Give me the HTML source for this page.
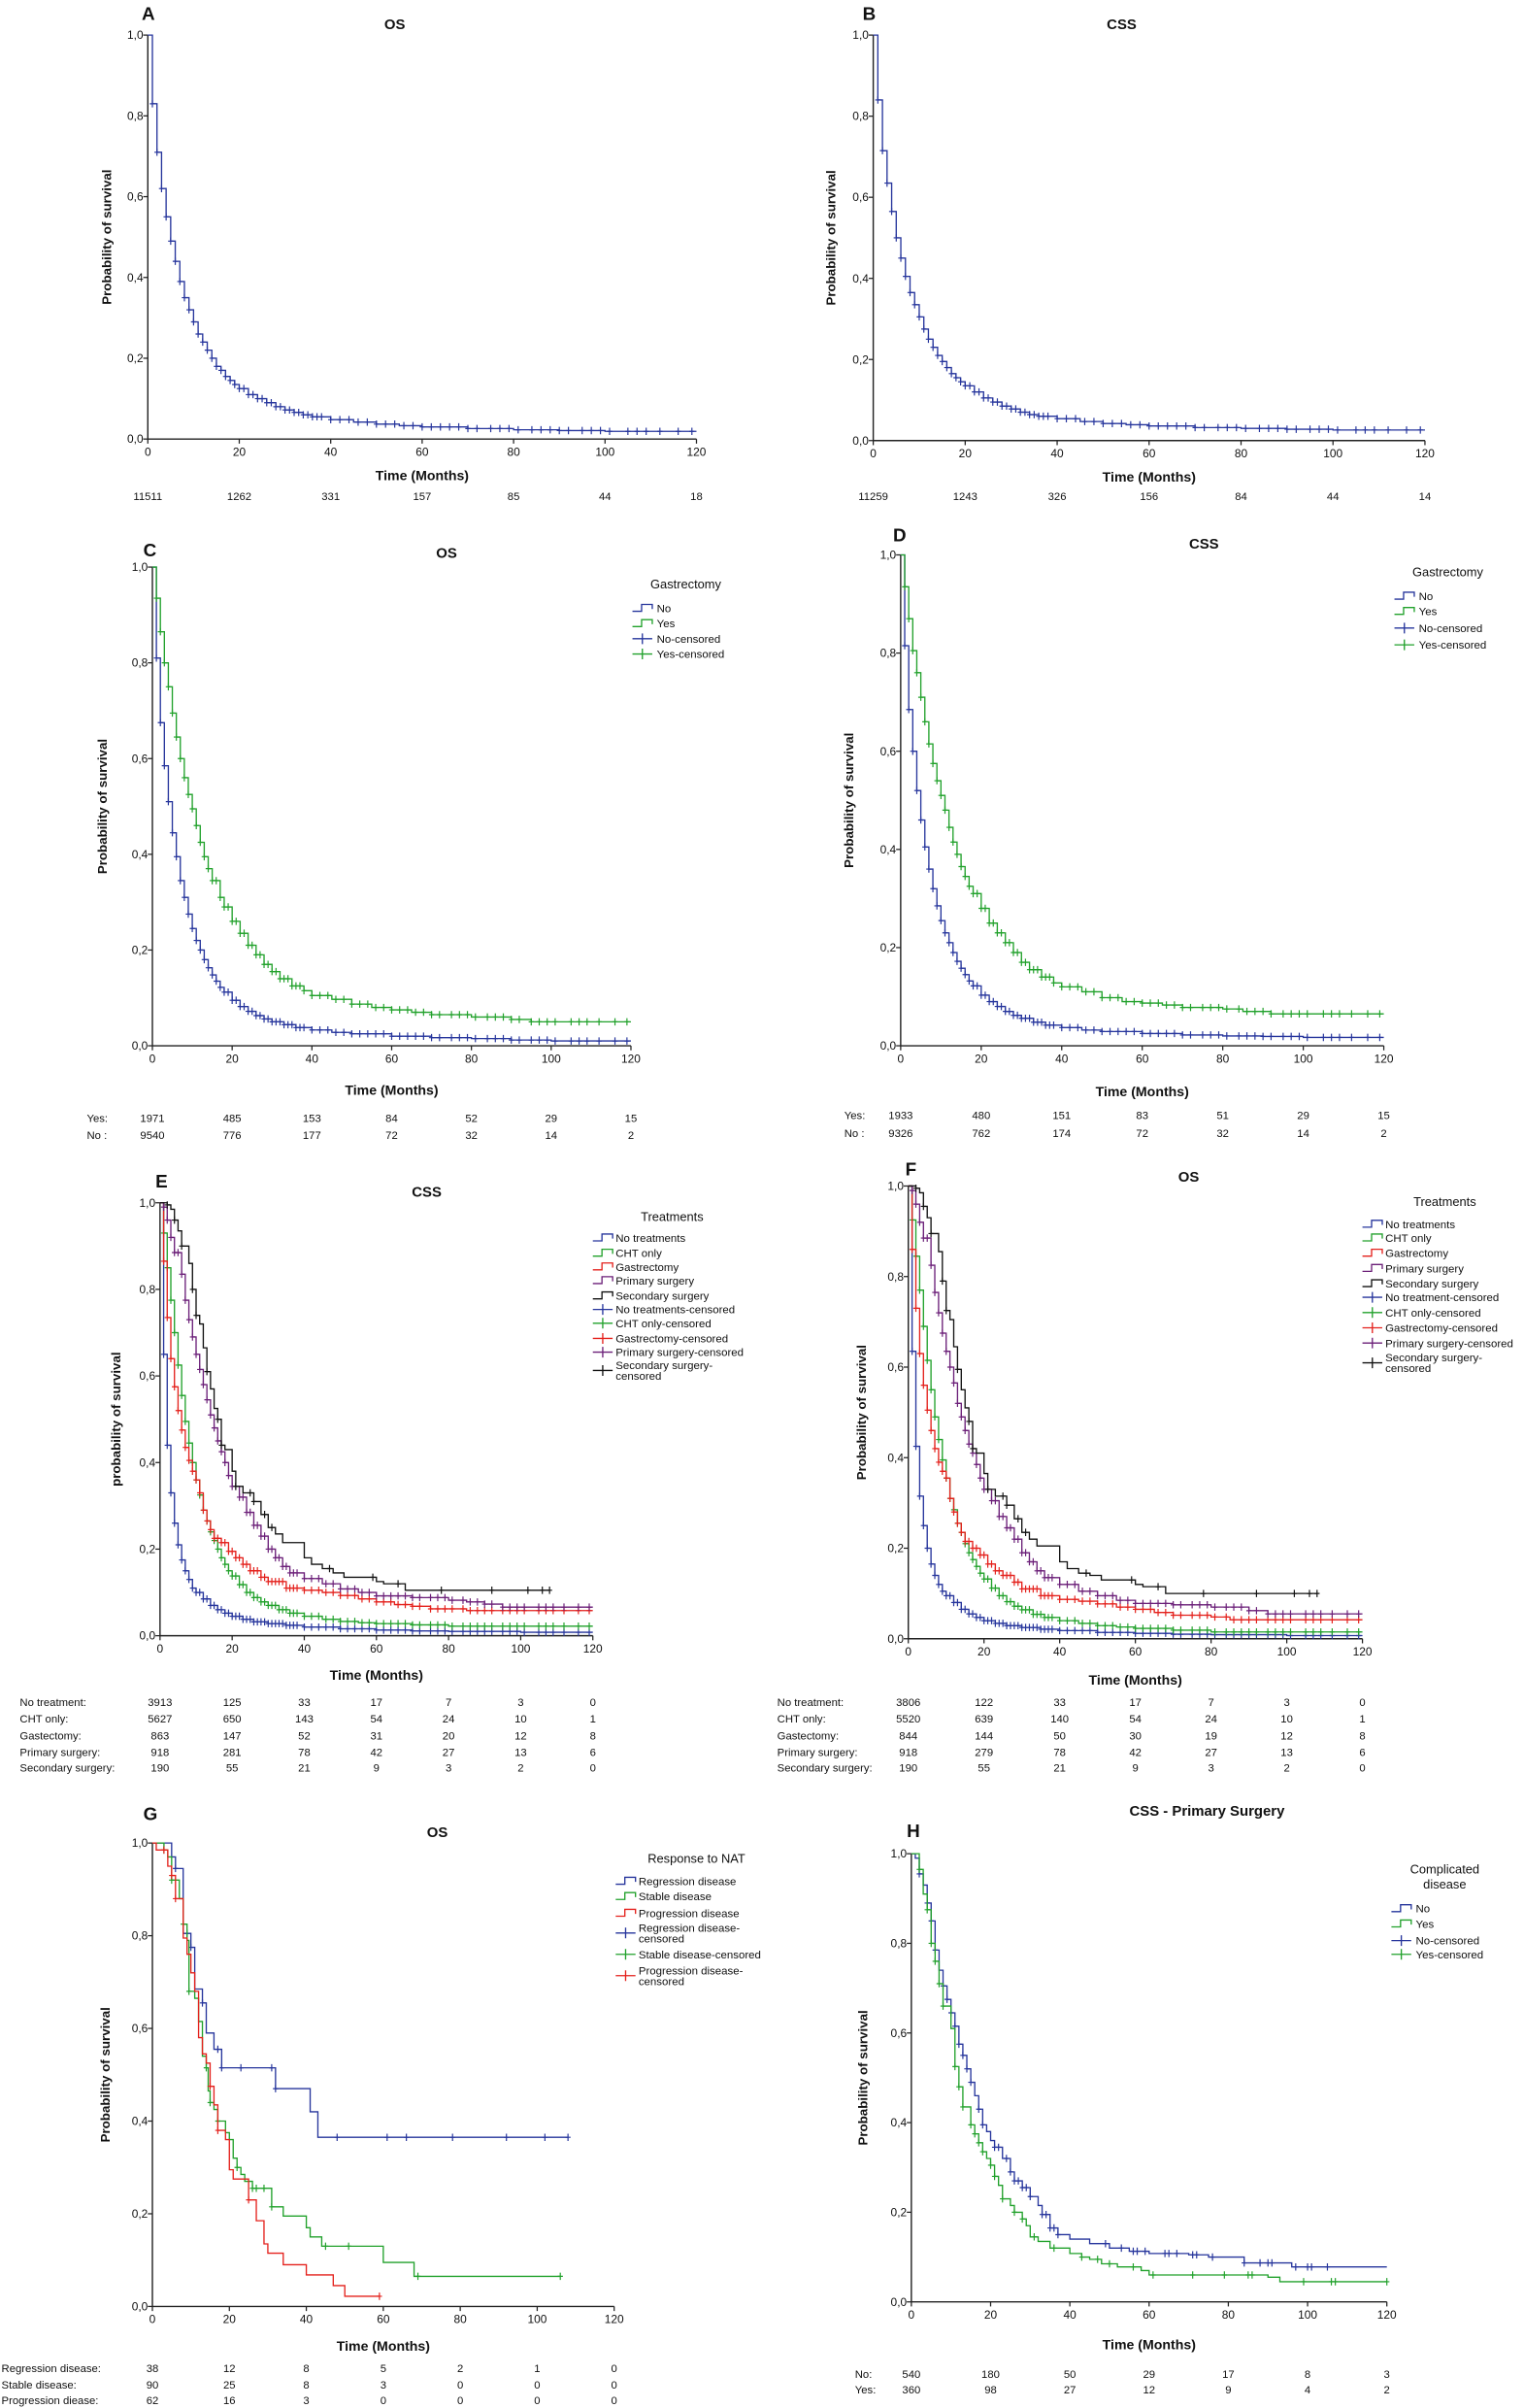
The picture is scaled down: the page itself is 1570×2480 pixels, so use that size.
<!DOCTYPE html>
<html><head><meta charset="utf-8"><style>
html,body{margin:0;padding:0;background:#fff;}
svg{display:block;}
text{font-family:"Liberation Sans Narrow","Liberation Sans",sans-serif;fill:#111;}
.b{font-family:"Liberation Sans",sans-serif;font-weight:bold;}
</style></head><body>
<svg id="fig" xmlns="http://www.w3.org/2000/svg" width="1570" height="2480" viewBox="0 0 1000 1579.6"></svg>
<script>
// ---------- DATA ----------
const censDense = [1,2,3,4,5,6,7,8,9,10,11,12,13,14,15,16,17,18,19,20,21,22,23,24,25,26,27,28,29,30,31,32,33,34,35,36,37,38,40,42,44,46,48,50,52,54,56,58,60,62,64,66,68,70,72,75,77,79,81,84,86,88,90,92,95,97,99,101,105,107,109,112,116,119];
const tA = [1,2,3,4,5,6,7,8,9,10,11,12,13,14,15,16,17,18,19,20,22,24,26,28,30,32,34,36,40,45,50,55,60,70,80,90,100];
const sA = [0.83,0.71,0.62,0.55,0.49,0.44,0.39,0.35,0.32,0.29,0.26,0.24,0.22,0.20,0.18,0.17,0.155,0.145,0.135,0.125,0.11,0.10,0.09,0.08,0.072,0.066,0.06,0.055,0.048,0.042,0.037,0.033,0.03,0.026,0.023,0.021,0.019];
const riskA = ['11511','1262','331','157','85','44','18'];
const tB = tA;
const sB = [0.84,0.715,0.635,0.565,0.50,0.45,0.405,0.365,0.335,0.305,0.275,0.25,0.23,0.21,0.195,0.18,0.165,0.155,0.145,0.135,0.12,0.105,0.095,0.085,0.078,0.07,0.064,0.06,0.054,0.047,0.042,0.039,0.036,0.032,0.03,0.028,0.026];
const riskB = ['11259','1243','326','156','84','44','14'];
const tCno = [1,2,3,4,5,6,7,8,9,10,11,12,13,14,15,16,17,18,20,22,24,26,28,30,33,36,40,45,50,60,70,80,90,100];
const sCno = [0.81,0.675,0.585,0.51,0.445,0.395,0.345,0.31,0.275,0.245,0.22,0.20,0.18,0.163,0.148,0.135,0.122,0.112,0.095,0.082,0.072,0.063,0.056,0.05,0.044,0.038,0.033,0.028,0.025,0.02,0.017,0.015,0.012,0.010];
const tCyes = [1,2,3,4,5,6,7,8,9,10,11,12,13,14,15,17,18,20,22,24,26,28,30,32,35,38,40,45,50,55,60,65,70,80,90,95];
const sCyes = [0.935,0.865,0.80,0.75,0.695,0.645,0.60,0.56,0.525,0.495,0.46,0.425,0.395,0.37,0.345,0.31,0.29,0.26,0.235,0.21,0.19,0.17,0.155,0.14,0.125,0.115,0.105,0.097,0.087,0.08,0.075,0.07,0.065,0.06,0.055,0.05];
const riskCyes = ['1971','485','153','84','52','29','15'];
const riskCno = ['9540','776','177','72','32','14','2'];
const tDno = [1,2,3,4,5,6,7,8,9,10,11,12,13,14,15,16,17,18,20,22,24,26,28,30,33,36,40,45,50,60,70,80,90,100];
const sDno = [0.815,0.685,0.6,0.52,0.46,0.405,0.36,0.32,0.285,0.255,0.23,0.21,0.19,0.172,0.158,0.145,0.132,0.122,0.103,0.09,0.08,0.07,0.062,0.056,0.048,0.042,0.037,0.032,0.029,0.025,0.022,0.02,0.019,0.017];
const tDyes = [1,2,3,4,5,6,7,8,9,10,11,12,13,14,15,16,17,18,20,22,24,26,28,30,32,35,38,40,45,50,55,60,65,70,80,85,92];
const sDyes = [0.935,0.87,0.805,0.76,0.71,0.66,0.615,0.575,0.54,0.51,0.48,0.445,0.415,0.39,0.365,0.345,0.325,0.31,0.28,0.25,0.23,0.21,0.19,0.17,0.155,0.14,0.128,0.12,0.11,0.098,0.09,0.087,0.083,0.078,0.075,0.07,0.065];
const riskDyes = ['1933','480','151','83','51','29','15'];
const riskDno = ['9326','762','174','72','32','14','2'];
// E (CSS, treatments)
const tEno = [1,2,3,4,5,6,7,8,9,10,12,14,16,18,20,23,26,30,35,40,50,60,70,80,100];
const sEno = [0.65,0.44,0.33,0.26,0.21,0.175,0.15,0.13,0.11,0.10,0.085,0.07,0.06,0.052,0.045,0.038,0.032,0.028,0.024,0.02,0.016,0.013,0.011,0.01,0.008];
const tEcht = [1,2,3,4,5,6,7,8,9,10,11,12,13,14,15,16,17,18,19,20,22,24,26,28,30,33,36,40,45,50,55,60,70,80];
const sEcht = [0.93,0.85,0.775,0.70,0.625,0.555,0.495,0.445,0.40,0.36,0.325,0.29,0.265,0.24,0.22,0.20,0.18,0.165,0.15,0.138,0.118,0.10,0.088,0.078,0.07,0.06,0.052,0.045,0.038,0.033,0.03,0.028,0.025,0.022];
const tEgas = [1,2,3,4,5,6,7,8,9,10,11,12,13,14,15,17,19,21,23,25,28,30,35,40,45,50,55,60,65,70,75,85];
const sEgas = [0.865,0.735,0.64,0.575,0.52,0.475,0.435,0.405,0.38,0.36,0.33,0.29,0.265,0.245,0.225,0.215,0.195,0.18,0.165,0.15,0.135,0.125,0.11,0.105,0.10,0.093,0.085,0.078,0.072,0.068,0.062,0.058];
const tEpri = [1,2,3,4,6,7,8,9,10,11,12,13,14,15,16,17,18,19,20,22,24,26,28,30,32,34,36,40,45,50,55,60,70,80,85,90,95];
const sEpri = [0.99,0.96,0.92,0.885,0.835,0.775,0.73,0.69,0.65,0.615,0.58,0.545,0.51,0.48,0.45,0.425,0.40,0.37,0.345,0.32,0.285,0.255,0.23,0.20,0.18,0.16,0.145,0.132,0.12,0.108,0.10,0.092,0.088,0.082,0.078,0.073,0.066];
const tEsec = [2,3,4,5,6,8,9,10,11,12,13,14,15,16,17,18,20,21,23,26,28,30,32,34,40,42,45,48,51,60,62,68];
const sEsec = [0.995,0.985,0.96,0.935,0.90,0.86,0.80,0.74,0.72,0.665,0.61,0.57,0.525,0.50,0.44,0.43,0.38,0.345,0.33,0.31,0.28,0.25,0.235,0.215,0.18,0.165,0.155,0.145,0.135,0.125,0.12,0.105];
const censSec = [2,4,6,9,10,13,16,17,21,25,26,29,31,47,59,66,78,92,102,106,108];
const riskE = [['3913','125','33','17','7','3','0'],['5627','650','143','54','24','10','1'],['863','147','52','31','20','12','8'],['918','281','78','42','27','13','6'],['190','55','21','9','3','2','0']];
// F (OS, treatments)
const tFno = [1,2,3,4,5,6,7,8,9,10,12,14,16,18,20,23,26,30,35,40,50,60,70,80,100];
const sFno = [0.635,0.425,0.315,0.25,0.20,0.165,0.14,0.12,0.105,0.095,0.08,0.065,0.055,0.047,0.04,0.034,0.029,0.025,0.021,0.018,0.014,0.012,0.01,0.009,0.007];
const tFcht = [1,2,3,4,5,6,7,8,9,10,11,12,13,14,15,16,17,18,19,20,22,24,26,28,30,33,36,40,45,50,55,60,70,80];
const sFcht = [0.925,0.845,0.77,0.69,0.615,0.55,0.49,0.44,0.395,0.355,0.31,0.285,0.255,0.235,0.21,0.19,0.175,0.16,0.145,0.132,0.112,0.095,0.082,0.072,0.064,0.054,0.047,0.04,0.034,0.029,0.026,0.023,0.019,0.015];
const tFgas = [1,2,3,4,5,6,7,8,9,10,11,12,13,14,15,17,19,21,23,25,28,30,35,40,45,50,55,60,65,70,80,85];
const sFgas = [0.86,0.73,0.63,0.56,0.505,0.46,0.42,0.39,0.37,0.355,0.31,0.28,0.255,0.235,0.215,0.2,0.185,0.165,0.15,0.14,0.125,0.11,0.095,0.087,0.083,0.077,0.07,0.065,0.058,0.052,0.048,0.042];
const tFpri = [1,2,3,4,6,7,8,9,10,11,12,13,14,15,16,17,18,19,20,22,24,26,28,30,32,34,36,40,45,50,55,60,70,80,90,95];
const sFpri = [0.99,0.96,0.92,0.885,0.825,0.765,0.72,0.675,0.635,0.60,0.565,0.52,0.49,0.46,0.43,0.41,0.385,0.355,0.33,0.305,0.27,0.245,0.22,0.19,0.17,0.15,0.135,0.12,0.105,0.095,0.085,0.078,0.075,0.07,0.062,0.055];
const tFsec = [2,3,4,5,6,8,9,10,11,12,13,14,15,16,17,18,20,21,23,26,28,30,32,34,40,42,45,48,51,60,62,68];
const sFsec = [0.995,0.985,0.955,0.93,0.895,0.855,0.79,0.725,0.705,0.645,0.595,0.55,0.51,0.48,0.42,0.41,0.365,0.33,0.315,0.295,0.265,0.235,0.22,0.205,0.17,0.155,0.145,0.14,0.13,0.12,0.115,0.10];
const riskF = [['3806','122','33','17','7','3','0'],['5520','639','140','54','24','10','1'],['844','144','50','30','19','12','8'],['918','279','78','42','27','13','6'],['190','55','21','9','3','2','0']];
// G (OS, response to NAT)
const tGreg = [5,6,8,10,11,13,14,16,18,32,41,43];
const sGreg = [0.97,0.945,0.805,0.775,0.685,0.655,0.59,0.555,0.515,0.47,0.42,0.365];
const cGreg = [6,9,10,13,17,18,23,31,32,48,61,66,78,92,102,108];
const tGsta = [3,4,5,7,8,9,9.5,11,12,13,14,14.5,15,16,17,19,20,21,22,23,24,26,31,34,40,41,44,60,68];
const sGsta = [0.985,0.97,0.92,0.88,0.825,0.79,0.68,0.665,0.615,0.54,0.515,0.465,0.44,0.425,0.40,0.375,0.36,0.32,0.30,0.285,0.27,0.255,0.215,0.195,0.17,0.15,0.13,0.095,0.065];
const cGsta = [3,5,8,9.5,14,15,17,22,26,27,29,31,45,51,69,106];
const tGpro = [1,4,5,6,8,9,10,11,12,13,14,15,16,17,19,20,21,25,27,29,30,34,40,47,50];
const sGpro = [0.985,0.95,0.93,0.88,0.795,0.76,0.72,0.68,0.58,0.545,0.525,0.475,0.435,0.38,0.36,0.295,0.275,0.23,0.185,0.135,0.115,0.09,0.068,0.045,0.022];
const cGpro = [3,5,6,15,17,25,59];
const riskG = [['38','12','8','5','2','1','0'],['90','25','8','3','0','0','0'],['62','16','3','0','0','0','0']];
// H (CSS primary surgery)
const tHno = [1,2,3,4,5,6,7,8,9,10,11,12,13,14,15,16,17,18,19,20,21,23,25,26,28,30,32,33,35,37,40,45,50,55,60,70,75,84,96];
const sHno = [0.99,0.955,0.93,0.89,0.85,0.785,0.74,0.705,0.675,0.645,0.615,0.575,0.55,0.52,0.49,0.46,0.43,0.395,0.38,0.36,0.345,0.32,0.29,0.27,0.255,0.235,0.215,0.195,0.165,0.15,0.14,0.13,0.12,0.113,0.108,0.105,0.10,0.087,0.078];
const cHno = [2,4,5,6,8,9,10,11,12,13,14,15,17,18,21,22,24,25,26,27,28,29,30,33,34,35,36,37,49,53,56,57,59,64,65,67,71,72,76,84,88,90,91,97,100,101,105];
const tHyes = [2,3,4,5,6,7,8,10,11,12,13,15,16,17,18,19,20,21,22,23,25,26,28,29,30,32,35,40,43,45,48,52,58,60,90,93];
const sHyes = [0.965,0.91,0.875,0.80,0.76,0.71,0.66,0.61,0.525,0.48,0.435,0.395,0.375,0.355,0.335,0.32,0.305,0.28,0.26,0.23,0.215,0.20,0.185,0.17,0.145,0.135,0.12,0.108,0.10,0.095,0.085,0.078,0.07,0.06,0.055,0.045];
const cHyes = [2,4,5,6,7,8,11,12,13,15,16,17,18,20,21,23,26,28,31,36,43,47,50,56,61,71,79,85,86,99,106,107,120];
const riskH = [['540','180','50','29','17','8','3'],['360','98','27','12','9','4','2']];
const xTicks = ['0','20','40','60','80','100','120'];
const yTicks = ['0,0','0,2','0,4','0,6','0,8','1,0'];

// ---------- COLORS ----------
const BLUE='#26359c', GREEN='#21a12b', RED='#e4211c', PURPLE='#6b1f78', BLACK='#111';
const NS='http://www.w3.org/2000/svg';
const svg=document.getElementById('fig');
function mk(tag,attrs,parent){const e=document.createElementNS(NS,tag);for(const k in attrs)e.setAttribute(k,attrs[k]);(parent||svg).appendChild(e);return e;}
function txt(str,x,y,size,anchor,cls,parent){const e=mk('text',{x:x,y:y,'font-size':size,'text-anchor':anchor||'start'},parent);if(cls)e.setAttribute('class',cls);e.textContent=str;return e;}
function survAt(t,s,x){let v=1;for(let i=0;i<t.length;i++){if(t[i]<=x)v=s[i];else break;}return v;}

function drawPanel(P){
  const g=mk('g',{});
  
  
  const X=v=>P.x0+(P.x1-P.x0)*v/120;
  const Y=v=>P.y0-(P.y0-P.y1)*v;
  const ax=mk('path',{d:`M${P.x0},${P.y1} V${P.y0} H${P.x1}`,stroke:'#222','stroke-width':0.9,fill:'none'},g);
  
  
  yTicks.forEach((lab,i)=>{const yy=Y(i*0.2);mk('line',{x1:P.x0-3,x2:P.x0,y1:yy,y2:yy,stroke:'#222','stroke-width':0.8},g);
    const t=txt(lab,P.x0-3,yy+2.6,7.6,'end',null,g);});
  xTicks.forEach((lab,i)=>{const xx=X(i*20);mk('line',{x1:xx,x2:xx,y1:P.y0,y2:P.y0+3,stroke:'#222','stroke-width':0.8},g);
    const t=txt(lab,xx,P.y0+11,7.6,'middle',null,g);});
  const ti=txt(P.title,P.tx,P.ty,P.tsize||9.5,'middle','b',g);
  const le=txt(P.letter,P.lx,P.ly,12,'start','b',g);
  const yl=txt(P.ylab||'Probability of survival',0,0,8.5,'middle','b',g);
  yl.setAttribute('transform',`translate(${P.ylabX},${(P.y0+P.y1)/2}) rotate(-90)`);
  
  
  const xl=txt(P.xlab||'Time (Months)',(P.x0+P.x1)/2,P.xlabY,9,'middle','b',g);
  
  
  P.curves.forEach(c=>{
    let d=`M${X(0)},${Y(1)}`;
    for(let i=0;i<c.t.length;i++){d+=` H${X(c.t[i])} V${Y(c.s[i])}`;}
    d+=` H${X(c.end)}`;
    const p=mk('path',{d:d,stroke:c.color,'stroke-width':0.85,fill:'none'},g);
    
    
    c.cens.forEach(ct=>{if(ct>c.end)return;const xx=X(ct),yy=Y(survAt(c.t,c.s,ct));
      const m=mk('path',{d:`M${xx},${yy-2.4} V${yy+2.4} M${xx-1.7},${yy} H${xx+1.7}`,stroke:c.color,'stroke-width':0.75},g);
      
      });
  });
  if(P.legend){
    P.legendTitle.forEach((lt,i)=>{const t=txt(lt,P.legTX,P.legTY+i*10,8.2,'middle',null,g);});
    P.legend.forEach((e,i)=>{
      const yy=P.legY[i];const sx=P.symX;
      const gi=mk('g',{},g);
      
      
      if(e.type==='step') mk('path',{d:`M${sx},${yy+2} H${sx+6} V${yy-2.5} H${sx+13} V${yy+0.5}`,stroke:e.color,'stroke-width':0.85,fill:'none'},gi);
      else mk('path',{d:`M${sx},${yy} H${sx+13} M${sx+6.5},${yy-3.5} V${yy+3.5}`,stroke:e.color,'stroke-width':0.85,fill:'none'},gi);
      const lines=e.label.split('\n');
      lines.forEach((l,k)=>txt(l,P.textX,yy+2.6+k*7-(lines.length>1?3.5:0),7.3,'start',null,gi));
    });
  }
  P.risk.forEach((row,r)=>{
    if(P.riskLabels){const t=txt(P.riskLabels[r],P.riskLX,P.riskY[r],7.2,'start',null,g);}
    row.forEach((v,i)=>{const t=txt(v,X(i*20),P.riskY[r],7.2,'middle',null,g);});
  });
}

function gastLegend(){return [{type:'step',color:BLUE,label:'No'},{type:'step',color:GREEN,label:'Yes'},{type:'cens',color:BLUE,label:'No-censored'},{type:'cens',color:GREEN,label:'Yes-censored'}];}
function treatLegend(noLab){return [
  {type:'step',color:BLUE,label:'No treatments'},{type:'step',color:GREEN,label:'CHT only'},{type:'step',color:RED,label:'Gastrectomy'},
  {type:'step',color:PURPLE,label:'Primary surgery'},{type:'step',color:BLACK,label:'Secondary surgery'},
  {type:'cens',color:BLUE,label:noLab},{type:'cens',color:GREEN,label:'CHT only-censored'},{type:'cens',color:RED,label:'Gastrectomy-censored'},
  {type:'cens',color:PURPLE,label:'Primary surgery-censored'},{type:'cens',color:BLACK,label:'Secondary surgery-\ncensored'}];}
const treatLabels=['No treatment:','CHT only:','Gastectomy:','Primary surgery:','Secondary surgery:'];

drawPanel({letter:'A',x0:97,x1:457,y0:288,y1:23,title:'OS',tx:259,ty:19,lx:93,ly:13,ylabX:73,xlabY:315,
  curves:[{name:'os',t:tA,s:sA,end:120,color:BLUE,cens:censDense}],risk:[riskA],riskY:[328]});
drawPanel({letter:'B',x0:573,x1:935,y0:289,y1:23,title:'CSS',tx:736,ty:19,lx:566,ly:13,ylabX:548,xlabY:316,
  curves:[{name:'css',t:tB,s:sB,end:120,color:BLUE,cens:censDense}],risk:[riskB],riskY:[328]});
drawPanel({letter:'C',x0:100,x1:414,y0:686,y1:372,title:'OS',tx:293,ty:366,lx:94,ly:365,ylabX:70,xlabY:718,
  curves:[{name:'no',t:tCno,s:sCno,end:120,color:BLUE,cens:censDense},{name:'yes',t:tCyes,s:sCyes,end:120,color:GREEN,cens:censDense}],
  legendTitle:['Gastrectomy'],legTX:450,legTY:386,legend:gastLegend(),legY:[399,409,419,429],symX:415,textX:431,
  risk:[riskCyes,riskCno],riskY:[736,747],riskLabels:['Yes:','No :'],riskLX:57});
drawPanel({letter:'D',x0:591,x1:908,y0:686,y1:364,title:'CSS',tx:790,ty:360,lx:586,ly:355,ylabX:560,xlabY:719,
  curves:[{name:'no',t:tDno,s:sDno,end:120,color:BLUE,cens:censDense},{name:'yes',t:tDyes,s:sDyes,end:120,color:GREEN,cens:censDense}],
  legendTitle:['Gastrectomy'],legTX:950,legTY:378,legend:gastLegend(),legY:[391,401,412,423],symX:915,textX:931,
  risk:[riskDyes,riskDno],riskY:[734,746],riskLabels:['Yes:','No :'],riskLX:554});
drawPanel({letter:'E',x0:105,x1:389,y0:1073,y1:789,title:'CSS',tx:280,ty:785,lx:102,ly:779,ylabX:79,xlabY:1102,ylab:'probability of survival',
  curves:[{name:'no-treatments',t:tEno,s:sEno,end:120,color:BLUE,cens:censDense},{name:'cht-only',t:tEcht,s:sEcht,end:120,color:GREEN,cens:censDense},
    {name:'gastrectomy',t:tEgas,s:sEgas,end:120,color:RED,cens:censDense},{name:'primary-surgery',t:tEpri,s:sEpri,end:120,color:PURPLE,cens:censDense},
    {name:'secondary-surgery',t:tEsec,s:sEsec,end:108,color:BLACK,cens:censSec}],
  legendTitle:['Treatments'],legTX:441,legTY:801,legend:treatLegend('No treatments-censored'),legY:[812,822,831,840,850,859,868,878,887,899],symX:389,textX:404,
  risk:riskE,riskY:[1119,1130,1141,1152,1162],riskLabels:treatLabels,riskLX:13});
drawPanel({letter:'F',x0:596,x1:894,y0:1075,y1:778,title:'OS',tx:780,ty:775,lx:594,ly:771,ylabX:568,xlabY:1105,
  curves:[{name:'no-treatments',t:tFno,s:sFno,end:120,color:BLUE,cens:censDense},{name:'cht-only',t:tFcht,s:sFcht,end:120,color:GREEN,cens:censDense},
    {name:'gastrectomy',t:tFgas,s:sFgas,end:120,color:RED,cens:censDense},{name:'primary-surgery',t:tFpri,s:sFpri,end:120,color:PURPLE,cens:censDense},
    {name:'secondary-surgery',t:tFsec,s:sFsec,end:108,color:BLACK,cens:censSec}],
  legendTitle:['Treatments'],legTX:948,legTY:791,legend:treatLegend('No treatment-censored'),legY:[803,812,822,832,842,851,861,871,881,894],symX:894,textX:909,
  risk:riskF,riskY:[1119,1130,1141,1152,1162],riskLabels:treatLabels,riskLX:510});
drawPanel({letter:'G',x0:100,x1:403,y0:1513,y1:1209,title:'OS',tx:287,ty:1205,lx:94,ly:1194,ylabX:72,xlabY:1542,
  curves:[{name:'regression',t:tGreg,s:sGreg,end:108,color:BLUE,cens:cGreg},{name:'stable',t:tGsta,s:sGsta,end:106,color:GREEN,cens:cGsta},{name:'progression',t:tGpro,s:sGpro,end:59,color:RED,cens:cGpro}],
  legendTitle:['Response to NAT'],legTX:457,legTY:1222,
  legend:[{type:'step',color:BLUE,label:'Regression disease'},{type:'step',color:GREEN,label:'Stable disease'},{type:'step',color:RED,label:'Progression disease'},
    {type:'cens',color:BLUE,label:'Regression disease-\ncensored'},{type:'cens',color:GREEN,label:'Stable disease-censored'},{type:'cens',color:RED,label:'Progression disease-\ncensored'}],
  legY:[1234,1244,1255,1268,1282,1296],symX:404,textX:419,
  risk:riskG,riskY:[1556,1567,1577],riskLabels:['Regression disease:','Stable disease:','Progression diease:'],riskLX:1});
drawPanel({letter:'H',x0:598,x1:910,y0:1510,y1:1216,title:'CSS - Primary Surgery',tsize:9.5,tx:792,ty:1191,lx:595,ly:1205,ylabX:569,xlabY:1541,
  curves:[{name:'no',t:tHno,s:sHno,end:120,color:BLUE,cens:cHno},{name:'yes',t:tHyes,s:sHyes,end:120,color:GREEN,cens:cHyes}],
  legendTitle:['Complicated','disease'],legTX:948,legTY:1229,legend:gastLegend(),legY:[1252,1262,1273,1282],symX:913,textX:929,
  risk:riskH,riskY:[1560,1570],riskLabels:['No:','Yes:'],riskLX:561});
</script>
</body></html>
